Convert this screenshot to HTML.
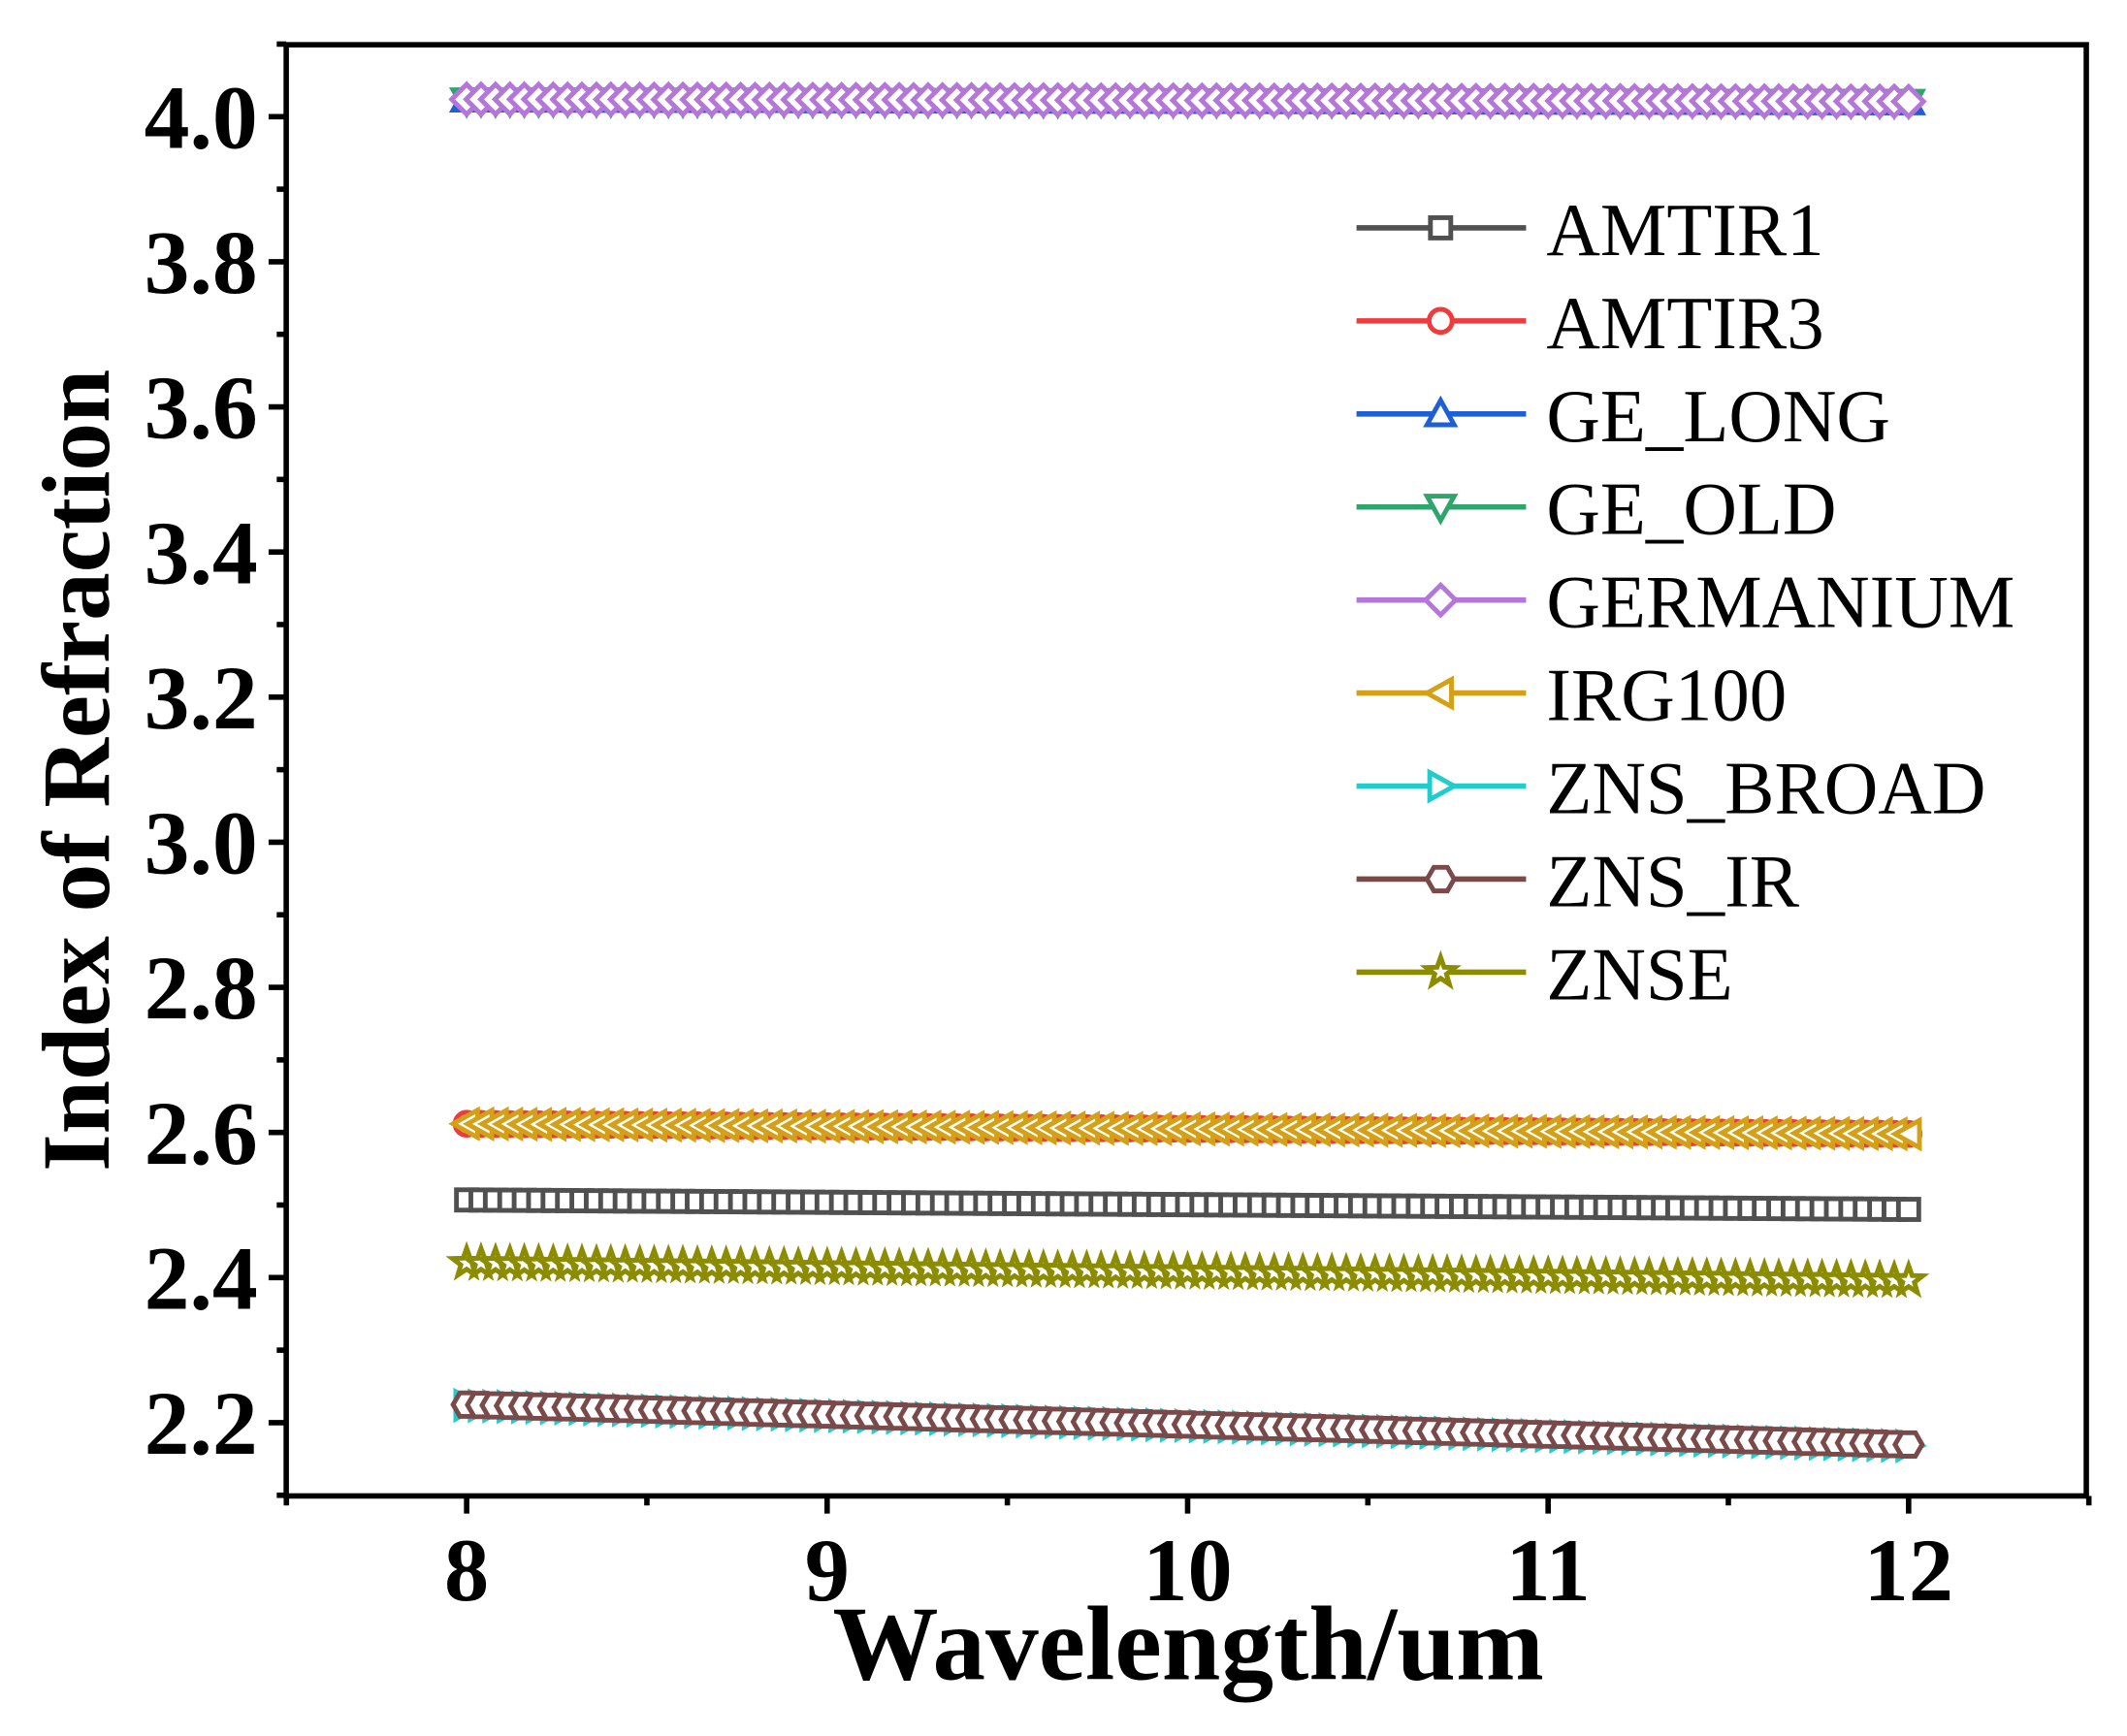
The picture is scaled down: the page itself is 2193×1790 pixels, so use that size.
<!DOCTYPE html>
<html><head><meta charset="utf-8"><style>
html,body{margin:0;padding:0;background:#fff;}
svg{display:block;}
</style></head><body>
<svg id="c" width="2193" height="1790" viewBox="0 0 1568 1280" preserveAspectRatio="none" xmlns="http://www.w3.org/2000/svg">
<rect width="1568" height="1280" fill="#fff"/>
<g id="series"></g>
<g id="axes" stroke="#000" fill="none" stroke-width="4">
<rect x="211" y="33" width="1327" height="1070"/>
</g>
<g id="ticks" stroke="#000" stroke-width="4"></g>
<g font-family="Liberation Serif, serif" font-weight="bold" fill="#000">
<g font-size="67" text-anchor="end" id="ylab"></g>
<g font-size="66" text-anchor="middle" id="xlab"></g>
<text x="876" y="1238" font-size="78" text-anchor="middle">Wavelength/um</text>
<text transform="translate(80,568) rotate(-90)" font-size="71" text-anchor="middle">Index of Refraction</text>
</g>
<g id="legend" font-family="Liberation Serif, serif" font-size="55" fill="#000"></g>
</svg>
<script>
function X(v){return 344+(v-8)*265.75;}
function Y(v){return 86+(4.0-v)/0.2*107;}
var t="",yl="",xl="";
for(var i=0;i<=20;i++){var v=2.1+i*0.1;var y=Y(v);var maj=(Math.round(v*10)%2===0);
 t+='<line x1="'+(211-(maj?13:7))+'" x2="211" y1="'+y+'" y2="'+y+'"/>';
 if(maj&&v>2.15&&v<4.05) yl+='<text x="190" y="'+(y+23)+'">'+v.toFixed(1)+'</text>';}
for(var i=0;i<=10;i++){var v=7.5+i*0.5;var x=X(v);var maj=(i%2===1);
 t+='<line y1="1103" y2="'+(1103+(maj?13:7))+'" x1="'+x+'" x2="'+x+'"/>';
 if(maj) xl+='<text x="'+x+'" y="1180">'+v+'</text>';}
document.getElementById("ticks").innerHTML=t;
document.getElementById("ylab").innerHTML=yl;
document.getElementById("xlab").innerHTML=xl;
function marker(type,x,y,c){var s='fill="#fff" stroke="'+c+'" stroke-width="3.5"';
 function poly(pts){return '<polygon points="'+pts.map(function(p){return (x+p[0]).toFixed(1)+','+(y+p[1]).toFixed(1)}).join(' ')+'" '+s+'/>';}
 switch(type){
 case 'sq':return '<rect x="'+(x-7.5)+'" y="'+(y-7.5)+'" width="15" height="15" '+s+'/>';
 case 'ci':return '<circle cx="'+x+'" cy="'+y+'" r="8.5" '+s+'/>';
 case 'up':return poly([[0,-10],[10,8],[-10,8]]);
 case 'dn':return poly([[0,10],[10,-8],[-10,-8]]);
 case 'di':return poly([[0,-11],[11,0],[0,11],[-11,0]]);
 case 'lt':return poly([[-10,0],[8,-10],[8,10]]);
 case 'rt':return poly([[10,0],[-8,-10],[-8,10]]);
 case 'hx':var p=[];for(var k=0;k<6;k++){var a=Math.PI/3*k;p.push([10*Math.cos(a),10*Math.sin(a)]);}return poly(p);
 case 'st':var p=[];for(var k=0;k<10;k++){var a=-Math.PI/2+Math.PI/5*k;var rr=k%2?4.5:11;p.push([rr*Math.cos(a),rr*Math.sin(a)]);}return poly(p);}}
var S=[
["AMTIR1","#505050","sq",2.507,2.494],
["AMTIR3","#ee3b3b","ci",2.612,2.598],
["GE_LONG","#1f5fd6","up",4.024,4.02],
["GE_OLD","#2ea56a","dn",4.022,4.02],
["GERMANIUM","#b576da","di",4.024,4.021],
["IRG100","#d4a017","lt",2.612,2.598],
["ZNS_BROAD","#20cccc","rt",2.224,2.168],
["ZNS_IR","#7a4a4a","hx",2.225,2.17],
["ZNSE","#8c8c00","st",2.42,2.396]];
var g="",lg="";
S.forEach(function(s,idx){
 var n=101,pts=[],mk="";
 for(var i=0;i<n;i++){var f=i/(n-1);var x=X(8+4*f);var y=Y(s[3]+(s[4]-s[3])*f);pts.push(x.toFixed(1)+","+y.toFixed(1));mk+=marker(s[2],x,y,s[1]);}
 g+='<polyline points="'+pts.join(" ")+'" fill="none" stroke="'+s[1]+'" stroke-width="4"/>'+mk;
 var ly=168+idx*68.6;
 lg+='<line x1="1000" x2="1125" y1="'+ly+'" y2="'+ly+'" stroke="'+s[1]+'" stroke-width="4"/>'+marker(s[2],1062,ly,s[1]);
 lg+='<text x="1140" y="'+(ly+20)+'">'+s[0]+'</text>';
});
document.getElementById("series").innerHTML=g;
document.getElementById("legend").innerHTML=lg;
</script>
</body></html>
